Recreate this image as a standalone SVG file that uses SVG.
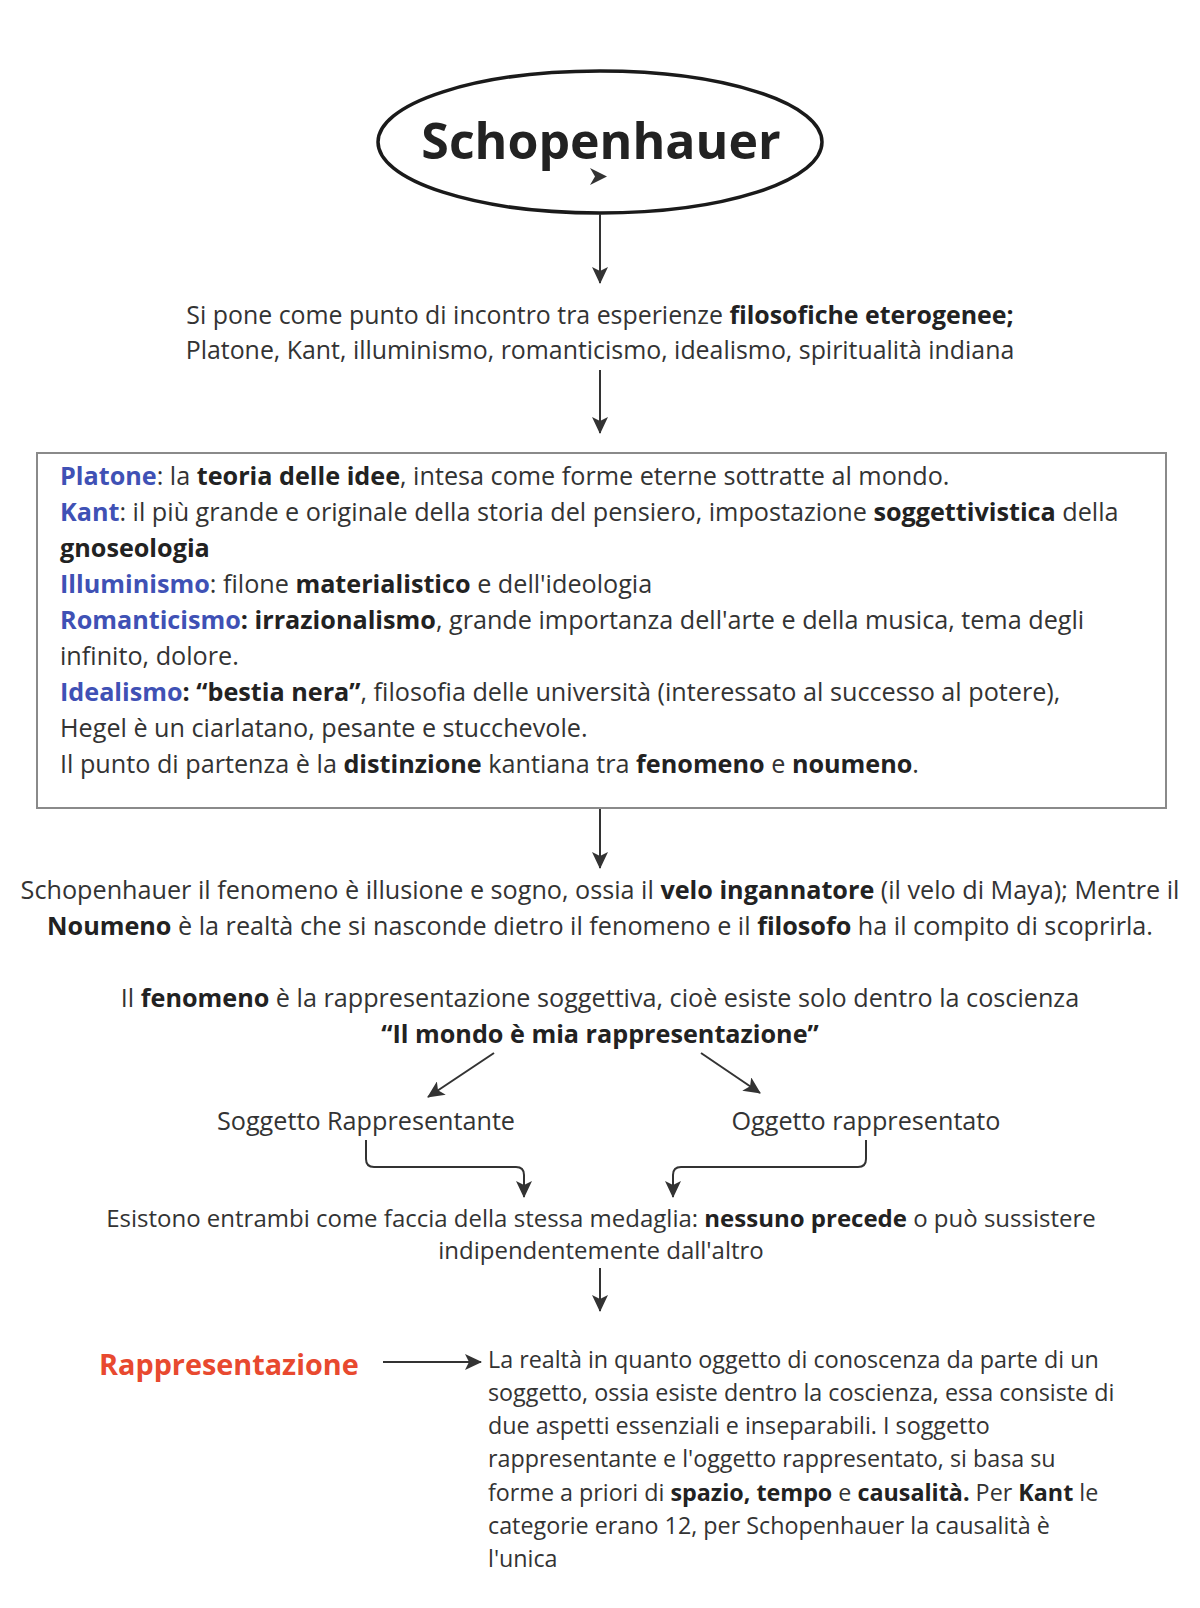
<svg xmlns="http://www.w3.org/2000/svg" width="1200" height="1608" viewBox="0 0 1200 1608">
<style>
text{font-family:"Open Sans","Noto Sans","DejaVu Sans",sans-serif;fill:#333;}
.b{font-weight:bold;fill:#222;}
.bl{font-weight:bold;fill:#3f51b5;}
.c{text-anchor:middle;}
.f25{font-size:25.2px;}
.fi{font-size:24.9px;}
.f24{font-size:24px;}
.f23{font-size:23.3px;}
.con{stroke:#333;stroke-width:2;fill:none;}
</style>
<defs>
<marker id="ah" markerUnits="userSpaceOnUse" markerWidth="18" markerHeight="16" refX="16" refY="8" orient="auto">
<path d="M0,0 L17,8 L0,16 L4,8 z" fill="#333"/>
</marker>
</defs>
<rect width="1200" height="1608" fill="#fff"/>

<g id="node-title">
<ellipse cx="600" cy="142" rx="222" ry="71" fill="#fff" stroke="#1a1a1a" stroke-width="3.5"/>
<text class="c" x="601" y="159" style="font-size:50px;font-weight:bold;fill:#222">Schopenhauer</text>
<path d="M590,168 L607,176.5 L590,185 L595,176.5 z" fill="#333"/>
</g>

<g id="node-intro">
<text class="c fi" x="600" y="324">Si pone come punto di incontro tra esperienze <tspan class="b">filosofiche eterogenee;</tspan></text>
<text class="c fi" x="600" y="359">Platone, Kant, illuminismo, romanticismo, idealismo, spiritualità indiana</text>
</g>

<g id="node-box">
<rect x="37" y="453" width="1129" height="355" fill="#fff" stroke="#8a8a8a" stroke-width="2"/>
<text class="f25" x="60" y="485"><tspan class="bl">Platone</tspan>: la <tspan class="b">teoria delle idee</tspan>, intesa come forme eterne sottratte al mondo.</text>
<text class="f25" x="60" y="521"><tspan class="bl">Kant</tspan>: il più grande e originale della storia del pensiero, impostazione <tspan class="b">soggettivistica</tspan> della</text>
<text class="f25" x="60" y="557"><tspan class="b">gnoseologia</tspan></text>
<text class="f25" x="60" y="593"><tspan class="bl">Illuminismo</tspan>: filone <tspan class="b">materialistico</tspan> e dell'ideologia</text>
<text class="f25" x="60" y="629"><tspan class="bl">Romanticismo</tspan><tspan class="b">: irrazionalismo</tspan>, grande importanza dell'arte e della musica, tema degli</text>
<text class="f25" x="60" y="665">infinito, dolore.</text>
<text class="f25" x="60" y="701"><tspan class="bl">Idealismo</tspan><tspan class="b">: “bestia nera”</tspan>, filosofia delle università (interessato al successo al potere),</text>
<text class="f25" x="60" y="737">Hegel è un ciarlatano, pesante e stucchevole.</text>
<text class="f25" x="60" y="773">Il punto di partenza è la <tspan class="b">distinzione</tspan> kantiana tra <tspan class="b">fenomeno</tspan> e <tspan class="b">noumeno</tspan>.</text>
</g>

<g id="node-fenomeno-illusione">
<text class="c f25" x="600" y="899">Schopenhauer il fenomeno è illusione e sogno, ossia il <tspan class="b">velo ingannatore</tspan> (il velo di Maya); Mentre il</text>
<text class="c f25" x="600" y="935"><tspan class="b">Noumeno</tspan> è la realtà che si nasconde dietro il fenomeno e il <tspan class="b">filosofo</tspan> ha il compito di scoprirla.</text>
</g>

<g id="node-rappresentazione-soggettiva">
<text class="c f25" x="600" y="1007">Il <tspan class="b">fenomeno</tspan> è la rappresentazione soggettiva, cioè esiste solo dentro la coscienza</text>
<text class="c f25 b" x="600" y="1043">“Il mondo è mia rappresentazione”</text>
</g>

<g id="node-soggetto">
<text class="c f25" x="366" y="1130">Soggetto Rappresentante</text>
</g>

<g id="node-oggetto">
<text class="c f25" x="866" y="1130">Oggetto rappresentato</text>
</g>

<g id="node-entrambi">
<text class="c f24" x="601" y="1227">Esistono entrambi come faccia della stessa medaglia: <tspan class="b">nessuno precede</tspan> o può sussistere</text>
<text class="c f24" x="601" y="1259">indipendentemente dall'altro</text>
</g>

<g id="node-rappresentazione">
<text x="99" y="1375" style="font-size:28.8px;font-weight:bold;fill:#e8492f">Rappresentazione</text>
</g>

<g id="node-definizione">
<text class="f23" x="488" y="1368">La realtà in quanto oggetto di conoscenza da parte di un</text>
<text class="f23" x="488" y="1401">soggetto, ossia esiste dentro la coscienza, essa consiste di</text>
<text class="f23" x="488" y="1434">due aspetti essenziali e inseparabili. I soggetto</text>
<text class="f23" x="488" y="1467">rappresentante e l'oggetto rappresentato, si basa su</text>
<text class="f23" x="488" y="1501">forme a priori di <tspan class="b">spazio, tempo</tspan> e <tspan class="b">causalità.</tspan> Per <tspan class="b">Kant</tspan> le</text>
<text class="f23" x="488" y="1534">categorie erano 12, per Schopenhauer la causalità è</text>
<text class="f23" x="488" y="1567">l'unica</text>
</g>

<g id="connectors">
<path class="con" d="M600,214 L600,283" marker-end="url(#ah)"/>
<path class="con" d="M600,370 L600,433" marker-end="url(#ah)"/>
<path class="con" d="M600,809 L600,868" marker-end="url(#ah)"/>
<path class="con" d="M494,1053 L428,1097" marker-end="url(#ah)"/>
<path class="con" d="M701,1053 L760,1093" marker-end="url(#ah)"/>
<path class="con" d="M366,1140 L366,1159 Q366,1167 374,1167 L516,1167 Q524,1167 524,1175 L524,1197" marker-end="url(#ah)"/>
<path class="con" d="M866,1140 L866,1159 Q866,1167 858,1167 L681,1167 Q673,1167 673,1175 L673,1197" marker-end="url(#ah)"/>
<path class="con" d="M600,1268 L600,1311" marker-end="url(#ah)"/>
<path class="con" d="M383,1362 L481,1362" marker-end="url(#ah)"/>
</g>
</svg>
